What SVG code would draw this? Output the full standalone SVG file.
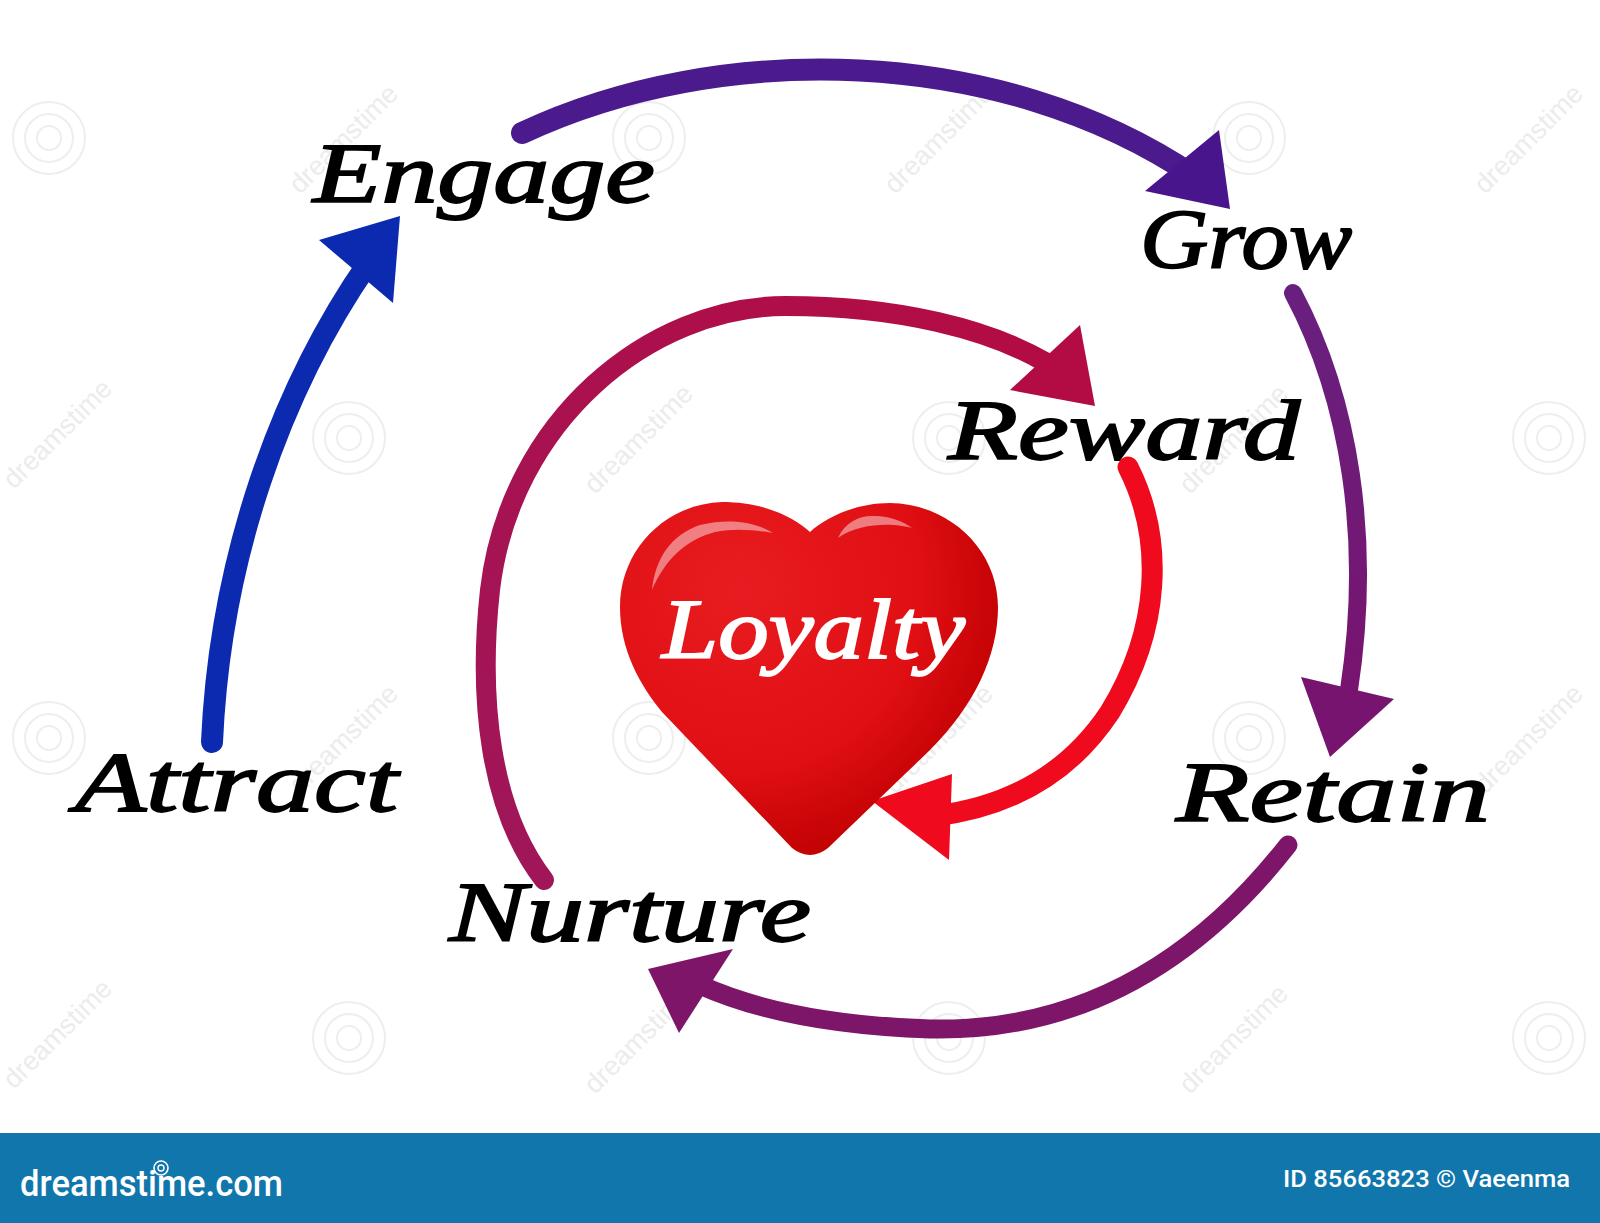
<svg xmlns="http://www.w3.org/2000/svg" width="1600" height="1223" viewBox="0 0 1600 1223">
<style>
.lbl{font-family:"Liberation Serif",serif;font-style:italic;font-size:84px;fill:#000;stroke:#000;stroke-width:1.8px}
.con{fill:none;stroke-linecap:round;stroke-linejoin:round}
.wm{fill:none;stroke:#eeeeee;stroke-width:2}
.wt{font-family:"Liberation Sans",sans-serif;font-size:27px;fill:#ececec}
</style>
<defs>
<radialGradient id="hg" gradientUnits="userSpaceOnUse" cx="740" cy="590" r="300">
<stop offset="0" stop-color="#e81c20"/><stop offset="0.6" stop-color="#e00f14"/><stop offset="0.82" stop-color="#ca0507"/><stop offset="1" stop-color="#bb0000"/>
</radialGradient>
<linearGradient id="gPurple" gradientUnits="userSpaceOnUse" x1="1291" y1="291" x2="1340" y2="700"><stop offset="0" stop-color="#68207f"/><stop offset="1" stop-color="#78146f"/></linearGradient>
<linearGradient id="gRose" gradientUnits="userSpaceOnUse" x1="544" y1="880" x2="1050" y2="360"><stop offset="0" stop-color="#a01659"/><stop offset="1" stop-color="#b30c44"/></linearGradient>
<g id="sp"><circle class="wm" r="36"/><circle class="wm" r="24"/><circle class="wm" r="12"/></g>
</defs>
<rect width="1600" height="1223" fill="#fff"/>
<g id="watermarks">
<use href="#sp" x="49" y="138"/><use href="#sp" x="649" y="138"/><use href="#sp" x="1249" y="138"/>
<use href="#sp" x="349" y="438"/><use href="#sp" x="949" y="438"/><use href="#sp" x="1549" y="438"/>
<use href="#sp" x="49" y="738"/><use href="#sp" x="649" y="738"/><use href="#sp" x="1249" y="738"/>
<use href="#sp" x="349" y="1038"/><use href="#sp" x="949" y="1038"/><use href="#sp" x="1549" y="1038"/>
<text class="wt" transform="translate(300,195) rotate(-45)">dreamstime</text>
<text class="wt" transform="translate(895,195) rotate(-45)">dreamstime</text>
<text class="wt" transform="translate(1485,195) rotate(-45)">dreamstime</text>
<text class="wt" transform="translate(14,490) rotate(-45)">dreamstime</text>
<text class="wt" transform="translate(595,495) rotate(-45)">dreamstime</text>
<text class="wt" transform="translate(1190,495) rotate(-45)">dreamstime</text>
<text class="wt" transform="translate(300,795) rotate(-45)">dreamstime</text>
<text class="wt" transform="translate(895,795) rotate(-45)">dreamstime</text>
<text class="wt" transform="translate(1485,795) rotate(-45)">dreamstime</text>
<text class="wt" transform="translate(14,1090) rotate(-45)">dreamstime</text>
<text class="wt" transform="translate(595,1095) rotate(-45)">dreamstime</text>
<text class="wt" transform="translate(1190,1095) rotate(-45)">dreamstime</text>
</g>
<g id="connectors">
<path class="con" d="M212 742C220 560 280 390 369 262" stroke="#0c2ab0" stroke-width="22"/>
<polygon points="400,216 319,240 393,303" fill="#0c2ab0"/>
<path class="con" d="M522 133C720 40 1000 45 1194 176" stroke="#4b1a8c" stroke-width="22"/>
<polygon points="1230,209 1219,130 1145,191" fill="#48158c"/>
<path class="con" d="M1293 293C1350 400 1372 540 1349 690" stroke="url(#gPurple)" stroke-width="18"/>
<polygon points="1330,757 1394,699 1301,677" fill="#77146f"/>
<path class="con" d="M1288 845C1190 970 1070 1032 930 1029C840 1026 760 1012 700 985" stroke="#7d1569" stroke-width="19"/>
<polygon points="648,969 733,949 679,1033" fill="#7e1569"/>
<path class="con" d="M544 880C490 810 478 700 490 590C510 420 650 306 786 306C900 306 990 330 1045 362" stroke="url(#gRose)" stroke-width="20"/>
<polygon points="1095,406 1080,325 1010,390" fill="#b30c44"/>
<path class="con" d="M1128 467C1165 540 1160 630 1110 712C1065 780 1000 808 935 816" stroke="#ef0a1e" stroke-width="21"/>
<polygon points="872,801 952,774 949,860" fill="#ef0a1e"/>
</g>
<g id="heart">
<path d="M810 532C795 518 765 502 722 502C665 504 620 550 620 607C620 650 640 685 662 712L792 848Q810 862 828 848L930 750C975 705 998 655 998 607C998 550 950 504 890 503C855 503 825 518 810 532Z" fill="url(#hg)"/>
<path d="M652 590C655 560 670 535 700 525C730 518 755 522 773 533C755 530 735 528 715 532C685 540 665 560 652 590Z" fill="#fff" fill-opacity="0.45"/>
<path d="M838 538C845 522 860 515 875 516C890 516 904 522 912 528C895 523 860 522 838 538Z" fill="#fff" fill-opacity="0.45"/>
<text x="662" y="658" font-family="'Liberation Serif',serif" font-style="italic" font-size="84" fill="#fff" stroke="#fff" stroke-width="1.8" textLength="303" lengthAdjust="spacingAndGlyphs">Loyalty</text>
</g>
<g id="attract"><text class="lbl" x="75" y="811" textLength="323" lengthAdjust="spacingAndGlyphs">Attract</text></g>
<g id="engage"><text class="lbl" x="313" y="202" textLength="342" lengthAdjust="spacingAndGlyphs">Engage</text></g>
<g id="grow"><text class="lbl" x="1140" y="268" textLength="212" lengthAdjust="spacingAndGlyphs">Grow</text></g>
<g id="reward"><text class="lbl" x="948" y="459" textLength="352" lengthAdjust="spacingAndGlyphs">Reward</text></g>
<g id="retain"><text class="lbl" x="1176" y="821" textLength="314" lengthAdjust="spacingAndGlyphs">Retain</text></g>
<g id="nurture"><text class="lbl" x="449" y="941" textLength="362" lengthAdjust="spacingAndGlyphs">Nurture</text></g>
<g id="footer">
<rect x="0" y="1133" width="1600" height="90" fill="#1076ac"/>
<text x="20" y="1196" font-family="Roboto,sans-serif" font-weight="500" font-size="36" fill="#fff" textLength="263" lengthAdjust="spacingAndGlyphs">dreamstime.com</text>
<circle cx="161" cy="1168" r="7" fill="none" stroke="#fff" stroke-width="1.6"/><circle cx="161" cy="1168" r="3" fill="none" stroke="#fff" stroke-width="1.4"/>
<text x="1283" y="1187" font-family="Roboto,sans-serif" font-weight="500" font-size="24" fill="#fff" textLength="287" lengthAdjust="spacingAndGlyphs">ID 85663823 © Vaeenma</text>
</g>
</svg>
